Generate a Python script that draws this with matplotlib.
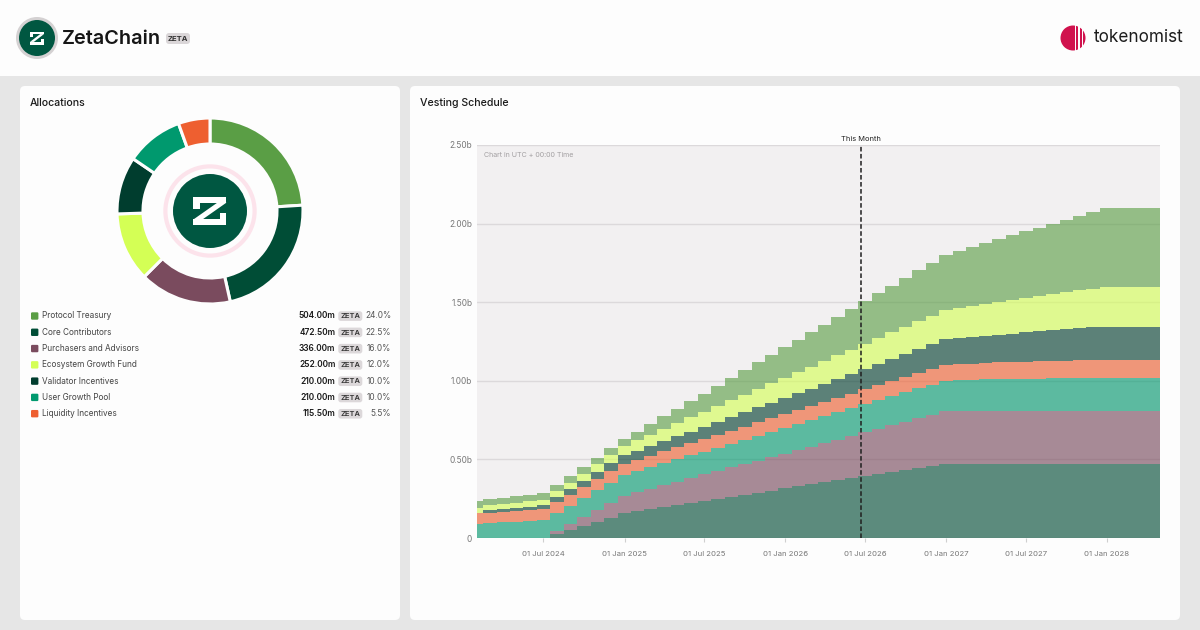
import matplotlib
matplotlib.use("Agg")
import matplotlib.pyplot as plt
import matplotlib.dates as mdates
from matplotlib.patches import FancyBboxPatch, Circle, Polygon, Rectangle
from matplotlib.ticker import FuncFormatter
import numpy as np
import pandas as pd

plt.rcParams['font.family'] = ['Inter', 'DejaVu Sans']

W, H = 1200, 630

# allocations
categories = ["Protocol Treasury", "Core Contributors", "Purchasers and Advisors",
              "Ecosystem Growth Fund", "Validator Incentives", "User Growth Pool",
              "Liquidity Incentives"]
amounts_m = [504.00, 472.50, 336.00, 252.00, 210.00, 210.00, 115.50]
shares = [24.0, 22.5, 16.0, 12.0, 10.0, 10.0, 5.5]
colors = ["#5a9e45", "#004d36", "#7a4b5e", "#d4ff55", "#003d2e", "#00996e", "#ee5f30"]

# vesting schedule, unlocked tokens in millions, one value per month
months = pd.date_range("2024-02-01", "2028-05-01", freq="MS")
this_month = pd.Timestamp("2026-06-23")
tick_dates = pd.date_range("2024-07-01", "2028-01-01", freq="6MS")

core = [0, 0, 0, 0, 0, 0, 25, 52, 79, 104, 129, 157,
        170, 183, 196, 209, 223, 236, 249, 262, 276, 289, 302, 315,
        328, 341, 354, 367, 380, 394, 407, 420, 433, 446, 459, 472.5,
        472.5, 472.5, 472.5, 472.5, 472.5, 472.5, 472.5, 472.5, 472.5, 472.5, 472.5, 472.5,
        472.5, 472.5, 472.5, 472.5]
purch = [0, 0, 0, 0, 0, 0, 20, 35, 52, 74, 96, 113,
         123, 131, 141, 150, 159, 168, 177, 187, 195, 204, 212, 222,
         230, 240, 248, 258, 268, 278, 287, 297, 307, 317, 326, 336,
         336, 336, 336, 336, 336, 336, 336, 336, 336, 336, 336, 336,
         336, 336, 336, 336]
user = [91, 95, 100, 104, 110, 115, 116, 119, 122, 125, 127, 129,
        132, 135, 138, 141, 143, 145, 148, 150, 153, 157, 160, 163,
        166, 169, 172, 175, 177, 179, 182, 185, 187, 189, 191, 193,
        196, 198, 200, 202, 204, 205, 206, 207, 208, 209, 210, 210,
        210, 210, 210, 210]
liq = [66, 67, 67, 68, 68, 68, 68, 69, 70, 71, 72, 73,
       74, 75, 76, 77, 78, 79, 81, 83, 85, 87, 88, 89,
       90, 91, 92, 93, 94, 95, 96, 97, 98, 99, 100, 101,
       102, 103, 104, 106, 107, 108, 110, 111, 112, 114, 115, 115.5,
       115.5, 115.5, 115.5, 115.5]
val = [5, 15, 17, 19, 21, 24, 30, 36, 42, 47, 52, 54,
       57, 61, 66, 70, 74, 78, 83, 87, 91, 95, 98, 102,
       106, 110, 115, 120, 125, 131, 136, 142, 148, 152, 157, 161,
       164, 168, 172, 176, 181, 187, 192, 196, 200, 203, 206, 210,
       210, 210, 210, 210]
eco = [30, 30, 30, 32, 34, 36, 38, 41, 44, 48, 53, 59,
       66, 72, 78, 84, 90, 96, 101, 106, 111, 117, 123, 128,
       134, 139, 144, 148, 153, 157, 162, 167, 172, 177, 182, 187,
       193, 198, 203, 207, 212, 219, 225, 231, 237, 242, 247, 252,
       252, 252, 252, 252]
treas = [42, 42, 42, 42, 42, 42, 42, 42, 42, 42, 42, 42,
         54, 66, 78, 89, 103, 116, 127, 141, 155, 168, 180, 193,
         207, 220, 233, 247, 260, 274, 287, 298, 310, 322, 336, 348,
         360, 374, 388, 401, 415, 424, 433, 445, 458, 471, 487, 504,
         504, 504, 504, 504]

stack = [("Core Contributors", core), ("Purchasers and Advisors", purch),
         ("User Growth Pool", user), ("Liquidity Incentives", liq),
         ("Validator Incentives", val), ("Ecosystem Growth Fund", eco),
         ("Protocol Treasury", treas)]
color_of = dict(zip(categories, colors))

CARD = "#fdfdfd"

fig = plt.figure(figsize=(12, 6.3), dpi=100)
fig.patch.set_facecolor("#e6e6e6")

# pixel canvas for header, cards and legend
bg = fig.add_axes([0, 0, 1, 1])
bg.set_xlim(0, W)
bg.set_ylim(H, 0)
bg.axis("off")

bg.add_patch(Rectangle((0, 0), W, 76, fc=CARD, lw=0))
bg.add_patch(FancyBboxPatch((20, 86), 380, 534, boxstyle="round,pad=0,rounding_size=5", fc=CARD, lw=0))
bg.add_patch(FancyBboxPatch((410, 86), 770, 534, boxstyle="round,pad=0,rounding_size=5", fc=CARD, lw=0))

Z_SHAPE = [
    [(-1, 1), (1, 1), (1, 0.6), (-1, 0.6)],
    [(-1, 1), (-0.6, 1), (-0.6, 0.15), (-1, 0.15)],
    [(0.45, 0.6), (1, 0.6), (-0.45, -0.6), (-1, -0.6)],
    [(-1, -1), (1, -1), (1, -0.6), (-1, -0.6)],
    [(0.6, -1), (1, -1), (1, -0.15), (0.6, -0.15)],
]


def draw_z(ax, cx, cy, sx, sy, flip):
    for poly in Z_SHAPE:
        pts = [(cx + px * sx, cy + (-py if flip else py) * sy) for px, py in poly]
        ax.add_patch(Polygon(pts, closed=True, fc="white", lw=0, zorder=5))


# header
bg.add_patch(Circle((37, 38), 21, fc="#d4d1d2", lw=0))
bg.add_patch(Circle((37, 38), 18, fc="#005741", lw=0))
draw_z(bg, 37, 38, 7, 6.5, True)
bg.text(62, 39, "ZetaChain", fontsize=14.3, fontweight="semibold", color="#161616", va="center", ha="left")
bg.add_patch(FancyBboxPatch((166, 33), 24, 11, boxstyle="round,pad=0,rounding_size=3", fc="#dad6d8", lw=0))
bg.text(178, 38.8, "ZETA", fontsize=5.5, fontweight="bold", color="#333333", va="center", ha="center")

# tokenomist mark
bg.add_patch(Circle((1073, 38), 12.5, fc="#d0124d", lw=0))
for gx in [1074.6, 1078.2, 1081.6]:
    bg.add_patch(Rectangle((gx, 24), 1.3, 28, fc=CARD, lw=0))
bg.text(1094, 38, "tokenomist", fontsize=12.3, color="#1c1c1c", va="center", ha="left")

bg.text(30, 102.5, "Allocations", fontsize=7.6, fontweight="medium", color="#1a1a1a", va="center")
bg.text(420, 102.5, "Vesting Schedule", fontsize=7.6, fontweight="medium", color="#1a1a1a", va="center")

# legend rows
row_y = 316
for name, amt, pct, col in zip(categories, amounts_m, shares, colors):
    bg.add_patch(FancyBboxPatch((31, row_y - 3.7), 7.4, 7.4, boxstyle="round,pad=0,rounding_size=1.2", fc=col, lw=0))
    bg.text(42.5, row_y, name, fontsize=5.9, color="#444444", va="center", ha="left")
    bg.text(335.5, row_y, f"{amt:.2f}m", fontsize=6, fontweight="semibold", color="#1a1a1a", va="center", ha="right")
    bg.add_patch(FancyBboxPatch((338.3, row_y - 4.7), 24, 9.6, boxstyle="round,pad=0,rounding_size=2.5", fc="#dcd8da", lw=0))
    bg.text(350.3, row_y + 0.3, "ZETA", fontsize=5.4, fontweight="semibold", color="#333333", va="center", ha="center")
    bg.text(391, row_y, f"{pct:.1f}%", fontsize=6, color="#555555", va="center", ha="right")
    row_y += 16.28

# donut
ax_p = fig.add_axes([110 / W, (H - 311) / H, 200 / W, 200 / H])
ax_p.pie(amounts_m, colors=colors, startangle=90, counterclock=False, radius=0.93,
         wedgeprops=dict(width=0.26, edgecolor=CARD, linewidth=2.2))
ax_p.add_patch(Circle((0, 0), 0.467, fc="#fce3eb", lw=0))
ax_p.add_patch(Circle((0, 0), 0.425, fc=CARD, lw=0))
ax_p.add_patch(Circle((0, 0), 0.37, fc="#005741", lw=0))
draw_z(ax_p, 0, 0, 0.165, 0.14, False)
ax_p.set_xlim(-1, 1)
ax_p.set_ylim(-1, 1)
ax_p.axis("off")

# vesting chart
ax = fig.add_axes([477 / W, (H - 538) / H, (1160 - 477) / W, (538 - 145) / H])
ax.set_facecolor("#f2f0f1")
x = mdates.date2num(months)
base = np.zeros(len(x))
for name, vals in stack:
    top = base + np.array(vals, dtype=float)
    ax.fill_between(x, base, top, step="mid", color=color_of[name], alpha=0.62, lw=0, zorder=2)
    base = top

ax.set_xlim(x[0], x[-1])
ax.set_ylim(0, 2500)
ax.set_yticks([0, 500, 1000, 1500, 2000, 2500])
ax.yaxis.set_major_formatter(FuncFormatter(lambda v, p: "0" if v == 0 else f"{v / 1000:.2f}b"))
ax.set_xticks(mdates.date2num(tick_dates))
ax.xaxis.set_major_formatter(mdates.DateFormatter("%d %b %Y"))
ax.grid(axis="y", color="#dcd9db", lw=1.0, zorder=1)
ax.set_axisbelow(True)
for s in ax.spines.values():
    s.set_visible(False)
ax.tick_params(axis="y", length=0, pad=3.5, labelsize=6, labelcolor="#777777")
ax.tick_params(axis="x", length=3, width=0.8, color="#cfcfcf", pad=6.5, labelsize=5.6, labelcolor="#777777")

tm = mdates.date2num(this_month)
ax.axvline(tm, color="#1f1f1f", lw=1.1, linestyle=(0, (3, 1.6)), zorder=4)
ax.annotate("This Month", xy=(tm, 1), xycoords=("data", "axes fraction"), xytext=(0, 2),
            textcoords="offset points", ha="center", va="bottom", fontsize=5.4, color="#222222")
ax.text(0.01, 0.975, "Chart in UTC + 00:00 Time", transform=ax.transAxes, fontsize=5.1,
        color="#a3a0a2", va="center", ha="left")

fig.savefig("out.png", dpi=100, facecolor=fig.get_facecolor())
